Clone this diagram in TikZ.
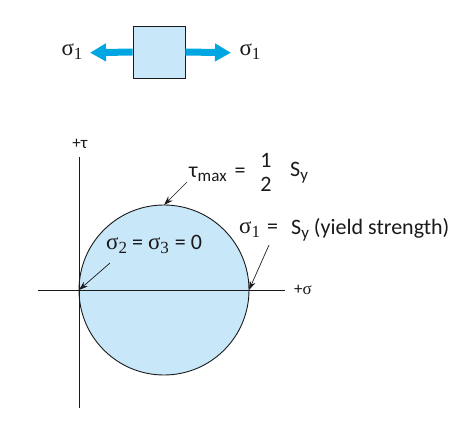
\documentclass[tikz,border=0pt]{standalone}
\usepackage{fontspec}
\setmainfont{Carlito}
\newfontfamily\grk{Liberation Serif}
\usetikzlibrary{arrows.meta}
\definecolor{ink}{HTML}{1A1A1A}
\definecolor{fillb}{HTML}{C8E7F8}
\definecolor{pull}{HTML}{00A6E2}
\newcommand{\lowtxt}[1]{\raisebox{-4pt}{\fontsize{17}{18}\selectfont #1}}
\newcommand{\sgm}[1]{{\grk\fontsize{23}{24}\selectfont σ\lowtxt{#1}}}
\tikzset{
  axis/.style={draw=ink, line width=0.9pt},
  rim/.style={draw=ink, line width=0.9pt, fill=fillb},
  call/.style={draw=ink, line width=0.7pt, -{Stealth[length=9pt,width=6pt]}},
  load/.style={draw=pull, line width=7pt, -{Triangle[length=16pt,width=17pt]}},
  lab/.style={text=ink, font=\fontsize{22}{25}\selectfont, inner sep=0pt},
  labs/.style={text=ink, font=\fontsize{17}{20}\selectfont, inner sep=0pt},
  labm/.style={text=ink, font=\fontsize{20}{22}\selectfont, inner sep=0pt},
}

\begin{document}
\begin{tikzpicture}[x=1pt,y=-1pt]
  \useasboundingbox (0,0) rectangle (459,432);

  % element under tension
  \node[draw=ink, line width=0.8pt, fill=fillb, minimum size=52pt, inner sep=0pt] (blk) at (159,52) {};
  \coordinate (tipL) at (90,52.7);
  \coordinate (tipR) at (231,52.7);
  \draw[load] (blk.west) -- (tipL);
  \draw[load] (blk.east) -- (tipR);
  \node[labm] (sL) at (72,52) {\sgm{1}};
  \node[labm] (sR) at (250,52) {\sgm{1}};

  % Mohr circle
  \coordinate (C) at (164,290);
  \coordinate (O) at (79,290);
  \coordinate (Ctop) at (164,205);
  \coordinate (Cr) at (249,290);
  \draw[rim] (C) circle (85pt);
  \coordinate (tauT) at (79,157);
  \coordinate (tauB) at (79,408);
  \coordinate (sigL) at (38,290);
  \coordinate (sigR) at (285,290);
  \draw[axis] (tauT) -- (tauB);
  \draw[axis] (sigL) -- (sigR);
  \node[labs] (tau) at (80,144) {+τ};
  \node[labs] (sig) at (303,290) {+{\grk σ}};

  % labels
  \node[lab, anchor=west] (tmax) at (189,174) {τ\lowtxt{max}\hspace{8pt}=};
  \node[lab] (half) at (266,174) {\begin{tabular}{@{}c@{}}1\\[-1pt]2\end{tabular}};
  \node[lab, anchor=west] (sy) at (290,173) {S\lowtxt{y}};
  \node[lab, anchor=west] (s1) at (239,230) {\sgm{1}\hspace{7pt}=};
  \node[lab, anchor=west] (s1r) at (291,230) {S\lowtxt{y} (yield strength)};
  \node[lab, anchor=west] (s23) at (106,244) {\sgm{2}\hspace{5pt}=\hspace{5pt}\sgm{3}\hspace{6pt}=\hspace{5pt}0};
  \coordinate (a1) at (187,182);
  \coordinate (a2) at (269,245);
  \coordinate (a3) at (110,263);
  \draw[call] (a1) -- (Ctop);
  \draw[call] (a2) -- (Cr);
  \draw[call] (a3) -- (O);
\end{tikzpicture}
\end{document}
